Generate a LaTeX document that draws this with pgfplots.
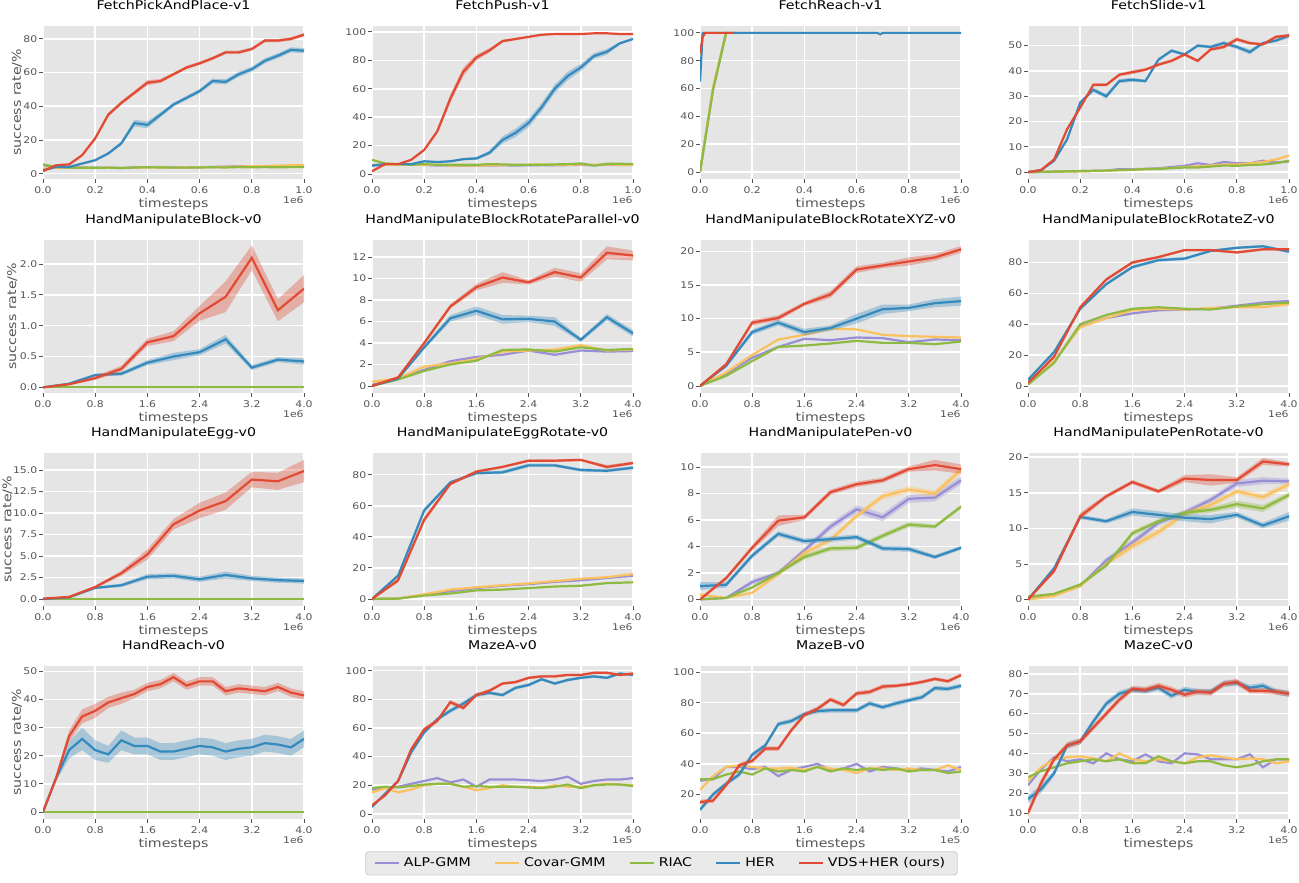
\documentclass[border=0pt]{standalone}
\usepackage{fontspec}
\setmainfont{DejaVu Sans}[FakeStretch=1.18]
\usepackage{pgfplots}
\pgfplotsset{compat=1.18}
\usepackage{pgfplotstable}

\definecolor{ggbg}{HTML}{E5E5E5}
\definecolor{ggtick}{HTML}{555555}
\definecolor{ggred}{HTML}{E24A33}
\definecolor{ggblue}{HTML}{348ABD}
\definecolor{ggpurple}{HTML}{988ED5}
\definecolor{ggyellow}{HTML}{FBC15E}
\definecolor{gggreen}{HTML}{8EBA42}
\definecolor{gglegend}{HTML}{EAEAEA}
\definecolor{ggedge}{HTML}{CCCCCC}

% ---------------- data ----------------
\pgfplotstableread{
x a b c d e sd se
0.00 5.0 3.0 5.5 2.0 1.5 0.5 0.5
0.05 4.0 3.5 4.0 4.0 5.0 0.5 0.5
0.10 3.8 3.6 3.6 4.0 5.5 0.5 0.5
0.15 3.7 3.5 3.5 6.0 11.0 0.5 0.8
0.20 3.5 3.4 3.5 8.0 21.0 0.6 1.0
0.25 3.6 3.5 3.6 12.0 35.0 0.8 1.2
0.30 3.4 3.4 3.3 18.0 42.0 1.2 1.2
0.35 3.8 3.6 3.7 30.0 48.0 2.0 1.2
0.40 3.9 3.7 3.8 29.0 54.0 2.0 1.5
0.45 4.0 3.8 3.7 35.0 55.0 1.5 1.2
0.50 3.8 3.6 3.6 41.0 59.0 1.2 1.0
0.55 3.7 3.7 3.6 45.0 63.0 1.2 1.0
0.60 3.9 3.8 3.7 49.0 65.5 1.2 1.0
0.65 4.0 3.9 3.8 55.0 68.5 1.5 1.0
0.70 4.2 4.0 3.7 54.5 72.0 1.5 1.0
0.75 4.5 4.3 3.9 59.0 72.0 1.5 1.0
0.80 4.3 4.4 3.8 62.0 74.0 1.5 1.0
0.85 4.2 4.6 3.9 67.0 79.0 1.5 1.0
0.90 4.4 4.8 3.8 70.0 79.0 1.5 1.0
0.95 4.3 5.0 3.9 73.5 80.0 1.5 1.0
1.00 4.5 5.2 4.0 73.0 82.5 1.5 1.0
}\tA
\pgfplotstableread{
x a b c d e sd se
0.00 6.0 6.5 10.0 6.0 2.0 0.5 0.5
0.05 6.5 6.5 7.5 7.0 7.0 0.5 0.5
0.10 6.5 6.5 7.0 7.0 7.0 0.5 0.5
0.15 6.5 6.5 6.5 7.0 10.0 0.5 0.5
0.20 6.5 6.5 7.0 9.0 17.0 0.5 0.8
0.25 6.0 6.5 6.5 8.5 30.0 0.5 1.5
0.30 6.0 6.0 6.5 9.0 53.0 0.5 3.0
0.35 5.8 6.0 6.5 10.5 72.0 0.8 3.0
0.40 6.0 6.0 6.5 11.0 82.0 1.0 2.0
0.45 6.0 6.2 7.0 15.0 87.0 1.5 1.5
0.50 6.2 6.3 6.8 24.0 93.5 2.5 1.0
0.55 6.0 6.3 6.5 29.0 95.0 3.0 0.8
0.60 6.2 6.5 6.6 36.0 96.5 3.0 0.5
0.65 6.3 6.8 6.5 47.0 98.0 3.0 0.5
0.70 6.2 6.6 6.8 60.0 98.5 3.0 0.3
0.75 6.3 6.5 7.0 69.0 98.5 3.0 0.3
0.80 6.5 6.8 7.5 75.0 98.5 2.5 0.3
0.85 6.2 6.5 6.0 83.0 99.0 2.0 0.3
0.90 6.5 6.8 7.2 86.0 99.0 2.0 0.3
0.95 6.3 6.5 7.3 92.0 98.5 1.0 0.3
1.00 6.3 6.5 7.0 95.0 98.5 0.5 0.3
}\tB
\pgfplotstableread{
x a b c d e sd se
0.00 0.0 0.0 0.0 0.0 0.0 0.2 0.2
0.05 0.1 0.1 0.1 0.8 0.8 0.3 0.3
0.10 0.2 0.2 0.2 4.5 5.0 0.4 0.4
0.15 0.3 0.2 0.3 13.0 17.0 0.6 0.5
0.20 0.4 0.3 0.4 27.5 25.5 0.6 0.6
0.25 0.5 0.4 0.5 32.5 34.5 0.8 0.6
0.30 0.6 0.5 0.6 30.0 34.5 1.0 0.6
0.35 1.2 0.7 0.8 36.0 38.5 0.8 0.6
0.40 1.1 0.9 0.9 36.5 39.5 0.8 0.8
0.45 1.3 1.1 1.2 36.0 40.5 0.6 0.6
0.50 1.5 1.3 1.2 44.5 42.5 0.6 0.6
0.55 2.0 1.6 1.6 48.0 44.0 0.6 0.6
0.60 2.5 2.0 1.8 46.5 46.5 0.6 0.6
0.65 3.5 2.3 1.8 50.0 44.0 0.6 0.6
0.70 2.8 2.6 2.2 49.5 48.5 0.6 0.6
0.75 4.0 3.0 2.6 51.0 49.5 0.8 0.8
0.80 3.5 3.0 2.5 49.5 52.5 0.8 0.8
0.85 3.5 3.5 2.8 47.5 51.0 1.0 0.6
0.90 4.5 4.0 3.0 51.0 50.5 0.6 0.6
0.95 3.8 5.0 3.5 52.0 53.5 0.6 0.6
1.00 4.2 6.5 4.5 54.0 54.0 1.0 0.6
}\tD
\pgfplotstableread{
x a b c d e sd se
0.0 0 0 0 0 0 0.005 0.005
0.4 0 0 0 0.06 0.05 0.01 0.01
0.8 0 0 0 0.20 0.15 0.02 0.03
1.2 0 0 0 0.22 0.30 0.03 0.05
1.6 0 0 0 0.40 0.73 0.04 0.06
2.0 0 0 0 0.50 0.83 0.06 0.08
2.4 0 0 0 0.57 1.20 0.05 0.12
2.8 0 0 0 0.78 1.47 0.07 0.25
3.2 0 0 0 0.32 2.10 0.04 0.20
3.6 0 0 0 0.45 1.25 0.04 0.18
4.0 0 0 0 0.42 1.60 0.05 0.22
}\tE
\pgfplotstableread{
x a b c d e sd se
0.0 0.1 0.4 0.0 0.0 0.0 0.1 0.1
0.4 0.7 0.7 0.6 0.7 0.8 0.1 0.1
0.8 1.5 1.8 1.4 3.6 4.0 0.2 0.2
1.2 2.3 2.1 2.0 6.3 7.4 0.3 0.2
1.6 2.7 2.5 2.35 7.0 9.2 0.4 0.3
2.0 2.9 3.2 3.35 6.2 10.1 0.4 0.5
2.4 3.3 3.3 3.4 6.25 9.65 0.3 0.2
2.8 2.9 3.4 3.2 6.0 10.6 0.4 0.4
3.2 3.3 3.8 3.6 4.3 10.1 0.2 0.4
3.6 3.2 3.3 3.35 6.4 12.4 0.3 0.6
4.0 3.25 3.4 3.45 4.9 12.15 0.3 0.45
}\tF
\pgfplotstableread{
x a b c d e sd se
0.0 0 0 0 0 0 0.1 0.1
0.4 1.8 2.0 1.5 3.0 3.2 0.3 0.3
0.8 4.2 4.6 3.7 8.0 9.4 0.4 0.4
1.2 5.8 6.9 5.8 9.4 10.1 0.4 0.4
1.6 7.0 7.6 6.0 8.0 12.2 0.5 0.3
2.0 6.8 8.5 6.3 8.6 13.6 0.4 0.5
2.4 7.2 8.4 6.7 10.0 17.3 0.7 0.5
2.8 7.1 7.6 6.4 11.4 17.9 0.7 0.4
3.2 6.5 7.4 6.4 11.6 18.5 0.5 0.6
3.6 6.9 7.3 6.2 12.3 19.1 0.6 0.5
4.0 6.8 7.2 6.6 12.6 20.3 0.7 0.5
}\tG
\pgfplotstableread{
x a b c d e sd se
0.0 1 1 1 4 2 0.8 0.8
0.4 16 16 15 22 19 1.0 1.0
0.8 38.5 38 40 50 51 1.0 1.0
1.2 44 44 46 66 69 1.0 1.0
1.6 47 49 50 77 80 1.0 1.0
2.0 49 50 51 81.5 83.5 1.0 0.8
2.4 49.5 49.5 50 82.5 88 1.0 0.8
2.8 50 50.5 49.5 87.5 88 0.8 0.8
3.2 52 51 51.5 89.5 86.5 0.8 0.8
3.6 54 51 53 90.5 88.5 0.8 0.8
4.0 55 53 54 87 88.5 1.0 0.8
}\tH
\pgfplotstableread{
x a b c d e sd se
0.0 0 0 0 0 0.05 0.02 0.05
0.4 0 0 0 0.2 0.25 0.05 0.1
0.8 0 0 0 1.3 1.4 0.15 0.15
1.2 0 0 0 1.6 3.0 0.2 0.3
1.6 0 0 0 2.6 5.2 0.3 0.6
2.0 0 0 0 2.7 8.7 0.3 0.6
2.4 0 0 0 2.3 10.3 0.3 0.9
2.8 0 0 0 2.8 11.4 0.4 1.0
3.2 0 0 0 2.4 13.9 0.3 0.9
3.6 0 0 0 2.2 13.7 0.3 1.0
4.0 0 0 0 2.1 14.9 0.3 1.3
}\tI
\pgfplotstableread{
x a b c d e sd se
0.0 0 0 0 0 0 0.5 0.5
0.4 0.3 0.3 0.2 15 12 1.0 1.5
0.8 2.5 3 2.2 57 51 1.5 2.0
1.2 5 6 3.5 75 74 1.0 1.0
1.6 7 7.5 5.5 81 82 1.0 0.8
2.0 8.5 8.8 6 81.5 85 1.2 0.8
2.4 9.5 10 7 86 89 1.2 0.8
2.8 11 11.5 8 86 89 1.0 0.8
3.2 12 13 8.5 83 89.5 1.0 0.8
3.6 13.5 14 10.2 82.5 85 1.0 1.2
4.0 15 16 10.7 84.5 87.5 1.0 1.0
}\tJ
\pgfplotstableread{
x a b c d e sd se sa sb sc
0.0 0 0.35 0 1.0 0 0.3 0.1 0.05 0.1 0.05
0.4 0.1 0.1 0.1 1.1 1.6 0.2 0.15 0.05 0.05 0.05
0.8 1.3 0.5 0.9 3.3 3.9 0.2 0.2 0.2 0.1 0.1
1.2 2.0 1.9 2.0 4.95 5.95 0.2 0.4 0.15 0.15 0.15
1.6 3.7 3.5 3.2 4.4 6.2 0.2 0.2 0.2 0.2 0.2
2.0 5.5 4.5 3.85 4.55 8.1 0.2 0.2 0.25 0.2 0.2
2.4 6.8 6.3 3.9 4.7 8.7 0.2 0.2 0.3 0.2 0.2
2.8 6.2 7.8 4.8 3.85 9.0 0.2 0.2 0.3 0.25 0.2
3.2 7.6 8.3 5.65 3.8 9.85 0.2 0.2 0.3 0.25 0.2
3.6 7.7 8.0 5.5 3.2 10.15 0.15 0.4 0.3 0.25 0.15
4.0 9.0 9.8 7.0 3.9 9.85 0.15 0.35 0.3 0.3 0.15
}\tK
\pgfplotstableread{
x a b c d e sd se sa sb sc
0.0 0.2 0 0.4 0 0 0.1 0.1 0.1 0.1 0.1
0.4 0.6 0.5 0.8 4.4 4.0 0.2 0.3 0.1 0.1 0.1
0.8 1.9 1.9 2.1 11.6 11.7 0.3 0.5 0.2 0.2 0.2
1.2 5.5 5.0 4.8 11.0 14.5 0.3 0.3 0.4 0.3 0.3
1.6 8.0 7.5 9.3 12.3 16.5 0.5 0.3 0.5 0.5 0.4
2.0 10.8 9.5 11.0 11.9 15.2 0.5 0.3 0.4 0.5 0.3
2.4 12.2 12.0 12.2 11.5 17.0 0.5 0.5 0.4 0.4 0.3
2.8 14.0 13.3 12.6 11.3 16.8 0.6 0.8 0.4 0.4 0.4
3.2 16.3 15.2 13.4 11.9 16.8 0.4 0.4 0.5 0.4 0.5
3.6 16.7 14.4 12.8 10.4 19.4 0.4 0.5 0.5 0.5 0.5
4.0 16.6 16.2 14.7 11.7 19.0 0.6 0.3 0.4 0.4 0.4
}\tL
\pgfplotstableread{
x a b c d e sd se
0.0 0 0 0 0 0 0.2 0.2
0.2 0 0 0 12 12 1 1
0.4 0 0 0 22 27 3 2
0.6 0 0 0 26 34 4 2.5
0.8 0 0 0 22 36 3.5 2.5
1.0 0 0 0 20.5 39 3 2
1.2 0 0 0 25.5 40.5 3.5 2
1.4 0 0 0 23.5 42 3 1.5
1.6 0 0 0 23.5 44.5 3 1.5
1.8 0 0 0 21.5 45.5 3 1.5
2.0 0 0 0 21.5 48 3 1.5
2.2 0 0 0 22.5 45 3 1.5
2.4 0 0 0 23.5 46.5 3 1.5
2.6 0 0 0 23 46.5 3 1.5
2.8 0 0 0 21.5 43 3 1.5
3.0 0 0 0 22.5 44 3 1.5
3.2 0 0 0 23 43.5 3 1.5
3.4 0 0 0 24.5 43 3 1.5
3.6 0 0 0 24 44.5 3 1.5
3.8 0 0 0 23 42.5 3 1.5
4.0 0 0 0 26 41.5 3 1.5
}\tM
\pgfplotstableread{
x a b c d e sd se
0.0 17 15 18 5 6 1 1
0.2 18 18 19 14 13 1 1
0.4 19 15 18.5 23 23 1 1
0.6 21 17 19.5 43 45 1.5 1.5
0.8 23 20 20.5 57 59 1.5 1.5
1.0 25 21 21 66 65 1.5 1.5
1.2 22 21 21 72 78 1.5 1.5
1.4 24 19 19 77 74 1.5 1.5
1.6 19 16.5 19.5 83 83 1.5 1.2
1.8 24 18 19 84.5 86 1.2 1.2
2.0 24 20 19 83 91 1.2 1.0
2.2 24 19 19 88 92 1.2 1.0
2.4 23.5 19 18.5 90 95 1.2 1.0
2.6 23 18.5 18 94 96 1.0 1.0
2.8 24 20 19 91 96 1.0 1.0
3.0 26 19 20.5 93.5 97 1.0 0.8
3.2 21 19 18 95 97 1.0 0.8
3.4 23 20 20 96 98.5 1.0 0.8
3.6 24 21 20.5 95 98.5 1.0 0.8
3.8 24 20.5 20.5 98 97 0.8 0.8
4.0 25 20 19.5 97 98 0.8 0.8
}\tN
\pgfplotstableread{
x a b c d e sd se
0.0 29 23 30 10 15 1.5 1.5
0.2 30 32 30 20 16 1.5 1.5
0.4 38 38 33 27 26 1.5 1.5
0.6 38 39 35 33 39 1.5 1.5
0.8 36.5 38 33 46 42 1.5 1.5
1.0 38 37 37 52 50 1.5 1.5
1.2 32 37 35 66 50 1.5 1.5
1.4 36 37.5 36 68 62 1.5 1.5
1.6 38 36 35 72.5 72 1.5 1.5
1.8 40 38 38 74.5 76 1.5 1.5
2.0 36 37 35 75 82 1.5 1.5
2.2 37 36 37 75 78.5 1.5 1.5
2.4 40 34 36 75 86 1.5 1.5
2.6 35 37 37 79.5 87 1.5 1.5
2.8 38 37 36 77 90.5 1.5 1.5
3.0 37 36 37 79.5 91 1.5 1.2
3.2 36 37 35 81.5 92 1.5 1.2
3.4 37 36 36 83.5 93.5 1.5 1.2
3.6 36 36 36 89.5 95.5 1.5 1.2
3.8 35 39 34 89 94 1.5 1.2
4.0 38 36 35 91 98 1.5 1.2
}\tO
\pgfplotstableread{
x a b c d e sd se
0.0 24 26 28 17 10 2 2
0.2 32 33 31 22 25 2 2
0.4 38 37 33 30 37 1.5 1.5
0.6 36 38 35 44 44 1.5 1.5
0.8 37 38.5 36 46 46 1.5 1.5
1.0 35 37.5 37 56 53 1.5 1.5
1.2 40 36 36 65 60 1.5 1.5
1.4 37 40 37 70 67 1.5 1.5
1.6 36 37 35 72 72.5 1.5 1.5
1.8 39.5 36 35 71.5 72 1.5 1.5
2.0 36 37 38.5 73 74 1.5 1.5
2.2 35 36 36 69 72 1.5 1.5
2.4 40 35 35 72 69.5 1.5 1.5
2.6 39.5 38 36 71 71 1.5 1.5
2.8 37 39 36 71 70.5 1.5 1.5
3.0 37 38 34 75 75 1.5 1.5
3.2 37 37 33 75.5 76 1.5 1.5
3.4 39.5 37.5 34 73 71.5 1.5 1.5
3.6 33 37 36 74 71.5 1.5 1.5
3.8 37 35 37 71 71 1.5 1.5
4.0 37 36 37 70 70 1.5 1.5
}\tP

% ---------------- styles ----------------
\pgfplotsset{
  gg/.style={
    scale only axis, width=130.5pt, height=76.5pt, anchor=north west,
    axis background/.style={fill=ggbg},
    axis line style={draw=none},
    grid=major, major grid style={white, line width=0.8pt},
    tick align=outside, xtick pos=bottom, ytick pos=left,
    major tick length=2pt, tick style={ggtick, line width=0.4pt},
    /pgf/number format/assume math mode=true,
    ticklabel style={font=\fontsize{4.6}{5.2}\selectfont, text=ggtick, inner sep=0pt},
    xticklabel style={anchor=north, /pgf/number format/fixed, /pgf/number format/fixed zerofill, /pgf/number format/precision=1},
    yticklabel style={anchor=east},
    xticklabel shift=1.5pt, yticklabel shift=0.7pt,
    scaled ticks=false,
    xlabel={timesteps},
    xlabel style={font=\fontsize{6}{7}\selectfont, text=ggtick, at={(axis description cs:0.5,0)}, anchor=base, yshift=-14.3pt, inner sep=0pt},
    title style={font=\fontsize{6}{7}\selectfont, at={(axis description cs:0.5,1)}, anchor=base, yshift=2.4pt, inner sep=0pt},
    xmin=0,
    every axis plot/.append style={line width=1.1pt},
  },
  sci/.style={after end axis/.append code={\node[anchor=base east, inner sep=0pt, font=\fontsize{4.6}{5.2}\selectfont, text=ggtick, yshift=-12.5pt] at (axis description cs:1,0) {#1};}},
  fetchx/.style={xmax=1, xtick={0,0.2,0.4,0.6,0.8,1}, sci=1e6},
  handx/.style={xmax=4, xtick={0,0.8,1.6,2.4,3.2,4}, sci=#1},
  yl/.style={ylabel={success rate/\%}, ylabel style={font=\fontsize{6}{7}\selectfont, text=ggtick, at={(axis description cs:#1,0.5)}, anchor=center, inner sep=0pt}},
  oneprec/.style={yticklabel style={/pgf/number format/fixed, /pgf/number format/fixed zerofill, /pgf/number format/precision=1}},
}

% band: stacked (lower, 2*sd filled, back to zero)
\newcommand{\band}[4]{%
  \addplot[draw=none, stack plots=y, forget plot] table[x=x, y expr=\thisrow{#2}-\thisrow{#3}] {#1};
  \addplot[draw=none, fill=#4, fill opacity=0.35, stack plots=y, forget plot] table[x=x, y expr=2*\thisrow{#3}] {#1} \closedcycle;
  \addplot[draw=none, stack plots=y, forget plot] table[x=x, y expr=-\thisrow{#2}-\thisrow{#3}] {#1};
}
\newcommand{\curves}[1]{%
  \addplot[color=ggpurple] table[x=x, y=a] {#1};
  \addplot[color=ggyellow] table[x=x, y=b] {#1};
  \addplot[color=gggreen] table[x=x, y=c] {#1};
  \band{#1}{d}{sd}{ggblue}
  \addplot[color=ggblue] table[x=x, y=d] {#1};
  \band{#1}{e}{se}{ggred}
  \addplot[color=ggred] table[x=x, y=e] {#1};
}
\newcommand{\curvesall}[1]{%
  \band{#1}{a}{sa}{ggpurple}
  \addplot[color=ggpurple] table[x=x, y=a] {#1};
  \band{#1}{b}{sb}{ggyellow}
  \addplot[color=ggyellow] table[x=x, y=b] {#1};
  \band{#1}{c}{sc}{gggreen}
  \addplot[color=gggreen] table[x=x, y=c] {#1};
  \band{#1}{d}{sd}{ggblue}
  \addplot[color=ggblue] table[x=x, y=d] {#1};
  \band{#1}{e}{se}{ggred}
  \addplot[color=ggred] table[x=x, y=e] {#1};
}

\begin{document}
\begin{tikzpicture}
\path (0,0) rectangle (649.5pt,-438pt);

% ---- row 1 ----
\begin{axis}[gg, fetchx, yl=-0.0996, at={(21.5pt,-9.5pt)}, title={FetchPickAndPlace-v1},
  ymin=-3.1, ymax=87.7, ytick={0,20,40,60,80}]
\curves{\tA}
\end{axis}
\begin{axis}[gg, fetchx, at={(186pt,-9.5pt)}, title={FetchPush-v1},
  ymin=-3.4, ymax=104.2, ytick={0,20,40,60,80,100}]
\curves{\tB}
\end{axis}
\begin{axis}[gg, fetchx, at={(350pt,-9.5pt)}, title={FetchReach-v1},
  ymin=-5, ymax=105, ytick={0,20,40,60,80,100}]
\addplot[color=ggpurple] coordinates {(0,0) (0.05,60) (0.1,100)};
\addplot[color=ggyellow] coordinates {(0,0) (0.05,61) (0.1,100) (0.2,100) (0.33,100)};
\addplot[color=gggreen] coordinates {(0,0) (0.05,59) (0.1,100) (0.15,100)};
\addplot[color=ggblue] coordinates {(0,65) (0.01,100) (0.1,100) (0.3,100) (0.5,100) (0.68,100) (0.69,99) (0.7,100) (0.85,100) (1.0,100)};
\addplot[color=ggred] coordinates {(0,85) (0.01,97) (0.02,100) (0.05,100) (0.1,100) (0.13,100)};
\end{axis}
\begin{axis}[gg, fetchx, at={(514pt,-9.5pt)}, title={FetchSlide-v1},
  ymin=-2.7, ymax=57.8, ytick={0,10,20,30,40,50}]
\curves{\tD}
\end{axis}

% ---- row 2 ----
\begin{axis}[gg, handx=1e6, yl=-0.118, oneprec, at={(21.5pt,-116.5pt)}, title={HandManipulateBlock-v0},
  ymin=-0.09, ymax=2.39, ytick={0,0.5,1,1.5,2}]
\curves{\tE}
\end{axis}
\begin{axis}[gg, handx=1e6, at={(186pt,-116.5pt)}, title={HandManipulateBlockRotateParallel-v0},
  ymin=-0.65, ymax=13.6, ytick={0,2,4,6,8,10,12}]
\curves{\tF}
\end{axis}
\begin{axis}[gg, handx=1e6, at={(350pt,-116.5pt)}, title={HandManipulateBlockRotateXYZ-v0},
  ymin=-1.04, ymax=21.7, ytick={0,5,10,15,20}]
\curves{\tG}
\end{axis}
\begin{axis}[gg, handx=1e6, at={(514pt,-116.5pt)}, title={HandManipulateBlockRotateZ-v0},
  ymin=-4.5, ymax=94.6, ytick={0,20,40,60,80}]
\curves{\tH}
\end{axis}

% ---- row 3 ----
\begin{axis}[gg, handx=1e6, yl=-0.136, oneprec, at={(21.5pt,-223pt)}, title={HandManipulateEgg-v0},
  ymin=-0.8, ymax=17, ytick={0,2.5,5,7.5,10,12.5,15}]
\curves{\tI}
\end{axis}
\begin{axis}[gg, handx=1e6, at={(186pt,-223pt)}, title={HandManipulateEggRotate-v0},
  ymin=-4.5, ymax=94, ytick={0,20,40,60,80}]
\curves{\tJ}
\end{axis}
\begin{axis}[gg, handx=1e6, at={(350pt,-223pt)}, title={HandManipulatePen-v0},
  ymin=-0.5, ymax=11.07, ytick={0,2,4,6,8,10}]
\curvesall{\tK}
\end{axis}
\begin{axis}[gg, handx=1e6, at={(514pt,-223pt)}, title={HandManipulatePenRotate-v0},
  ymin=-0.9, ymax=20.6, ytick={0,5,10,15,20}]
\curvesall{\tL}
\end{axis}

% ---- row 4 ----
\begin{axis}[gg, handx=1e6, yl=-0.0996, at={(21.5pt,-329.5pt)}, title={HandReach-v0},
  ymin=-2.5, ymax=52, ytick={0,10,20,30,40,50}]
\curves{\tM}
\end{axis}
\begin{axis}[gg, handx=1e5, at={(186pt,-329.5pt)}, title={MazeA-v0},
  ymin=-3.5, ymax=103.3, ytick={0,20,40,60,80,100}]
\curves{\tN}
\end{axis}
\begin{axis}[gg, handx=1e5, at={(350pt,-329.5pt)}, title={MazeB-v0},
  ymin=4, ymax=104, ytick={20,40,60,80,100},
  legend style={at={(axis description cs:-0.1475,-0.29)}, anchor=center,
    legend columns=5, draw=ggedge, fill=gglegend, rounded corners=1.5pt,
    font=\fontsize{6}{7}\selectfont, inner xsep=4pt, inner ysep=2.3pt,
    nodes={inner ysep=0.5pt},
    /tikz/every even column/.append style={column sep=9.5pt}},
  legend image code/.code={\draw[#1, line width=1.1pt] (0pt,0pt) -- (12pt,0pt);}]
\curves{\tO}
\legend{ALP-GMM, Covar-GMM, RIAC, HER, VDS+HER (ours)}
\end{axis}
\begin{axis}[gg, handx=1e5, at={(514pt,-329.5pt)}, title={MazeC-v0},
  ymin=7, ymax=84, ytick={10,20,30,40,50,60,70,80}]
\curves{\tP}
\end{axis}
\end{tikzpicture}
\end{document}
